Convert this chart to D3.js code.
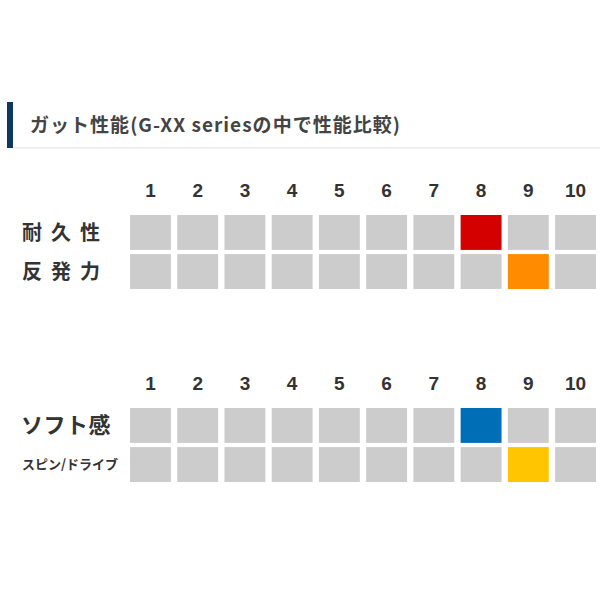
<!DOCTYPE html>
<html>
<head>
<meta charset="utf-8">
<script src="https://cdn.jsdelivr.net/npm/d3@7"></script>
<style>
  html, body { margin: 0; padding: 0; background: #fff; }
  svg { display: block; }
</style>
</head>
<body>
<svg id="chart" width="600" height="600"></svg>
<script>
const title = "ガット性能(G-XX seriesの中で性能比較)";
const scoreLabels = ["1","2","3","4","5","6","7","8","9","10"];
const group1Categories = ["耐久性", "反発力"];
const group1Values = [8, 9];
const group1Colors = ["#d40000", "#ff8b00"];
const group2Categories = ["ソフト感", "スピン/ドライブ"];
const group2Values = [8, 9];
const group2Colors = ["#006eb7", "#ffc600"];

const svg = d3.select("#chart");

// Title
svg.append("rect").attr("x", 7).attr("y", 102).attr("width", 6).attr("height", 46).attr("fill", "#0d3a5c");
svg.append("rect").attr("x", 13).attr("y", 147).attr("width", 587).attr("height", 1.5).attr("fill", "#ececec");
svg.append("text")
  .attr("x", 30).attr("y", 132)
  .attr("font-family", "'Noto Sans CJK JP', sans-serif")
  .attr("font-weight", "bold")
  .attr("font-size", 19)
  .attr("textLength", 370)
  .attr("lengthAdjust", "spacing")
  .attr("fill", "#444")
  .text(title);

const x = d3.scaleBand().domain(scoreLabels).range([130, 596]).paddingInner(0.134).paddingOuter(0);

function drawGroup(top, categories, values, colors, labelStyles) {
  const y = d3.scaleBand().domain(categories).range([top, top + 74]).paddingInner(0.107).paddingOuter(0);
  const g = svg.append("g");
  // header numbers
  g.selectAll("text.num").data(scoreLabels).enter().append("text")
    .attr("class", "num")
    .attr("x", d => x(d) + x.bandwidth() / 2)
    .attr("y", top - 18)
    .attr("text-anchor", "middle")
    .attr("font-family", "'Liberation Sans', Arial, sans-serif")
    .attr("font-weight", "bold")
    .attr("font-size", 19)
    .attr("fill", "#333")
    .text(d => d);
  categories.forEach((cat, i) => {
    g.selectAll(null).data(scoreLabels).enter().append("rect")
      .attr("x", d => x(d))
      .attr("y", y(cat))
      .attr("width", x.bandwidth())
      .attr("height", y.bandwidth())
      .attr("fill", d => (+d === values[i] ? colors[i] : "#cccccc"));
    const st = labelStyles[i];
    g.append("text")
      .attr("x", st.x)
      .attr("y", y(cat) + y.bandwidth() / 2)
      .attr("dy", "0.36em")
      .attr("font-family", "'Noto Sans CJK JP', sans-serif")
      .attr("font-weight", "bold")
      .attr("font-size", st.size)
      .attr("letter-spacing", st.ls)
      .attr("fill", "#333")
      .text(cat);
  });
}

drawGroup(215, group1Categories, group1Values, group1Colors,
  [{x: 22, size: 20, ls: 9}, {x: 22, size: 20, ls: 9}]);
drawGroup(408, group2Categories, group2Values, group2Colors,
  [{x: 21, size: 22, ls: 0.5}, {x: 22, size: 13, ls: 0}]);
</script>
</body>
</html>
